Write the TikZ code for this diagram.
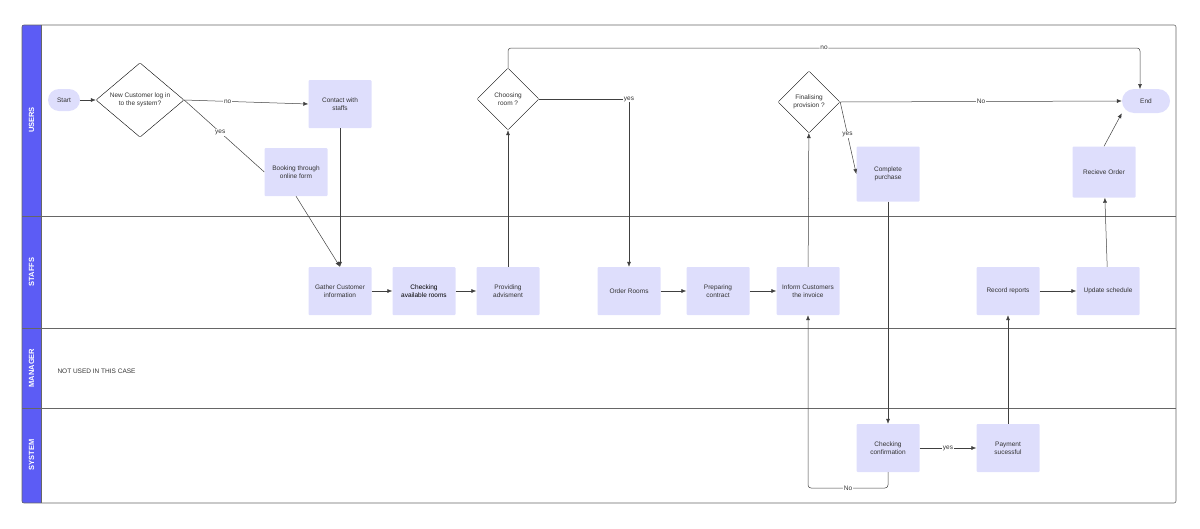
\documentclass[tikz,border=0pt]{standalone}
\usepackage{fontspec}
\setmainfont{Liberation Sans}
\usetikzlibrary{shapes.geometric,arrows.meta}
\definecolor{boxf}{HTML}{DEDEFC}
\definecolor{band}{HTML}{5C5CF5}
\definecolor{txt}{HTML}{333333}
\begin{document}
\begin{tikzpicture}[x=1pt,y=-1pt,
  every node/.style={font=\fontsize{6.5}{8}\selectfont,text=txt,align=center},
  box/.style={fill=boxf,draw=none,rounded corners=1pt,minimum width=63pt,minimum height=48pt,inner sep=1pt},
  pill/.style={fill=boxf,draw=none,rounded corners=11pt,minimum height=22pt},
  dia/.style={diamond,draw=black,fill=white,inner sep=0pt,minimum width=62pt,minimum height=62pt,rounded corners=1pt},
  lab/.style={fill=white,inner sep=1pt},
  ar/.style={draw=black!75,line width=0.5pt,-{Latex[length=5pt,width=4pt]}},
  ln/.style={draw=black!75,line width=0.5pt},
  lane/.style={text=white,font=\bfseries\fontsize{7.5}{9}\selectfont,rotate=90}]
\useasboundingbox (0,0) rectangle (1200,528);
% frame
\fill[band] (22,25) rectangle (41,503);
\draw[black!60,line width=0.6pt,rounded corners=2pt] (22,25) rectangle (1176,503);
\draw[black!60,line width=0.6pt] (41,25) -- (41,503);
\foreach \y in {216,328,408} \draw[black!60,line width=0.6pt] (22,\y) -- (1176,\y);
\node[lane] (lu) at (31.5,120) {USERS};
\node[lane] (ls) at (31.5,272) {STAFFS};
\node[lane] (lm) at (31.5,368) {MANAGER};
\node[lane] (ly) at (31.5,455) {SYSTEM};
\node[anchor=west] (nu) at (54,371) {NOT USED IN THIS CASE};
% nodes
\node[pill,minimum width=32pt] (start) at (64,100) {Start};
\node[dia,minimum width=88pt,minimum height=70pt] (d1) at (140,100) {New Customer log in\\to the system?};
\node[box] (contact) at (340,104) {Contact with\\staffs};
\node[box] (booking) at (296,172) {Booking through\\online form};
\node[box] (gather) at (340,291) {Gather Customer\\information};
\node[box,text=black] (check) at (424,291) {Checking\\available rooms};
\node[box] (prov) at (508,291) {Providing\\advisment};
\node[dia] (choose) at (508,99) {Choosing\\room ?};
\node[box] (order) at (629,291) {Order Rooms};
\node[box] (prep) at (718,291) {Preparing\\contract};
\node[box] (inform) at (808,291) {Inform Customers\\the invoice};
\node[dia] (fin) at (809,102) {Finalising\\provision ?};
\node[box,minimum height=55pt] (complete) at (888,174) {Complete\\purchase};
\node[pill,minimum width=48pt,minimum height=24pt,rounded corners=12pt] (end) at (1146,101) {End};
\node[box,minimum height=51pt] (recv) at (1104,172) {Recieve Order};
\node[box] (record) at (1008,291) {Record reports};
\node[box] (update) at (1108,291) {Update schedule};
\node[box] (conf) at (888,448) {Checking\\confirmation};
\node[box] (pay) at (1008,448) {Payment\\sucessful};
% edges
\draw[ar] (start) -- (d1);
\draw[ar] (d1.east) -- node[lab,pos=0.35]{no} (contact.west);
\draw[ln] (d1.east) -- node[lab,pos=0.45]{yes} (booking.west);
\draw[ar] (booking.south) -- (gather.north);
\draw[ar] (contact) -- (gather);
\draw[ar] (gather) -- (check);
\draw[ar] (check) -- (prov);
\draw[ar] (prov) -- (choose);
\draw[ar,rounded corners=3pt] (choose.north) -- (508,48) -- node[lab]{no} (1140,48) -- (1140,89);
\draw[ar] (choose.east) -- (629,99) node[lab]{yes} -- (order.north);
\draw[ar] (order) -- (prep);
\draw[ar] (prep) -- (inform);
\draw[ar] (inform) -- (fin);
\draw[ar] (fin.east) -- node[lab]{No} (end.west);
\draw[ar] (fin.east) -- node[lab,pos=0.45]{yes} (complete.west);
\draw[ar] (complete) -- (conf);
\draw[ar,rounded corners=3pt] (conf.south) -- (888,488) -- node[lab]{No} (808,488) -- (inform.south);
\draw[ar] (conf) -- node[lab]{yes} (pay);
\draw[ar] (pay) -- (record);
\draw[ar] (record) -- (update);
\draw[ar] (update) -- (recv);
\draw[ar] (recv.north) -- (end.south west);
\end{tikzpicture}
\end{document}
